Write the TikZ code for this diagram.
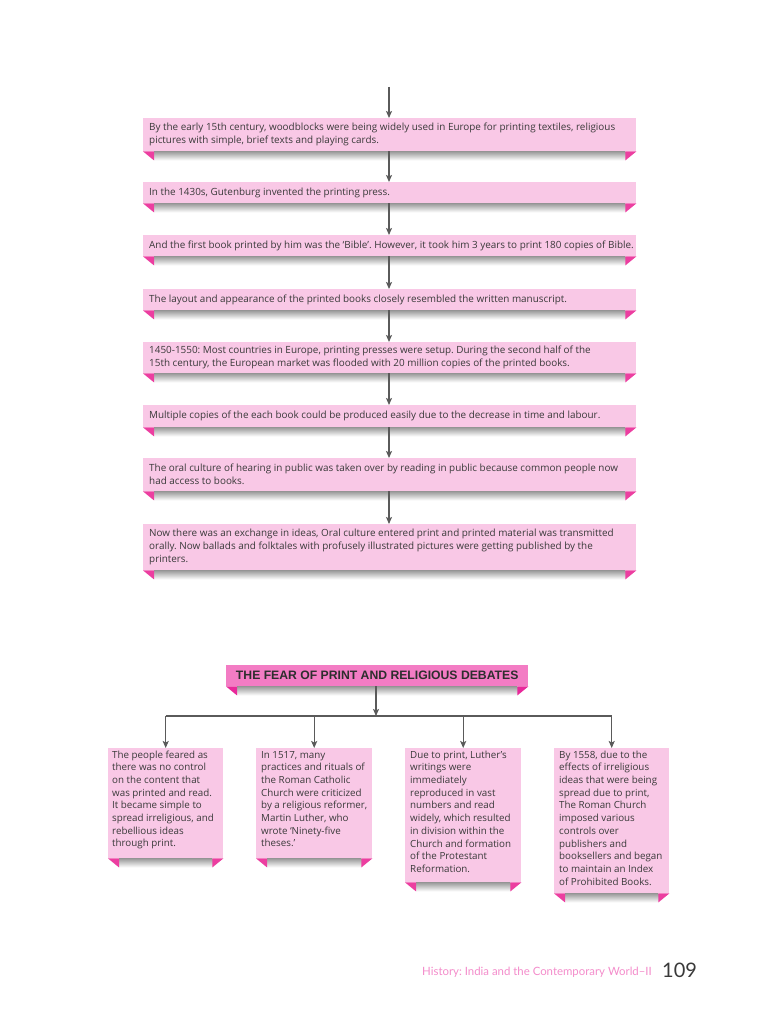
\documentclass[tikz,border=0pt]{standalone}
\usepackage{fontspec}
\setmainfont{Open Sans}
\newfontfamily\titlefont{Liberation Sans}
\newfontfamily\footfont{Lato}
\usetikzlibrary{arrows.meta,calc}
\frenchspacing
\definecolor{boxpink}{HTML}{F9C8E6}
\definecolor{tripink}{HTML}{EC3EA0}
\definecolor{titlepink}{HTML}{F37CC4}
\definecolor{titletri}{HTML}{E8289A}
\definecolor{txtgrey}{HTML}{3A3A3A}
\definecolor{linegrey}{HTML}{5A5A5A}
\definecolor{footpink}{HTML}{F48CCB}
\tikzset{
  box/.style={fill=boxpink, draw=none, rectangle, anchor=north west, inner sep=0pt},
  titlebox/.style={fill=titlepink, draw=none, rectangle, anchor=north west, inner sep=0pt,
    font=\titlefont\bfseries\fontsize{12.2}{14}\selectfont, text=txtgrey!80!black},
  txt/.style={anchor=west, inner sep=0pt, align=left, text=txtgrey,
    font=\frenchspacing\fontsize{9.9}{13}\selectfont},
  stxt/.style={anchor=north west, inner sep=0pt, align=left, text=txtgrey,
    font=\frenchspacing\fontsize{9.8}{12.7}\selectfont},
  conn/.style={draw=linegrey, line width=1.1pt},
  arr/.style={conn, -{Stealth[length=7pt,width=6pt,inset=1.5pt]}},
}
\newcommand\ribdeco[2]{%
  \shade[top color=black!40, bottom color=white] ($(#1.south west)+(11,0)$) rectangle ($(#1.south east)+(-11,9)$);
  \fill[#2] (#1.south west) -- ++(11,0) -- ++(0,9) -- cycle;
  \fill[#2] (#1.south east) -- ++(-11,0) -- ++(0,9) -- cycle;
}
\begin{document}
\begin{tikzpicture}[x=1pt,y=-1pt]
\useasboundingbox (0,0) rectangle (768,1024);
\fill[white] (0,0) rectangle (768,1024);

% top chain boxes
\node[box, minimum width=493, minimum height=33] (b1) at (143,118) {};
\node[box, minimum width=493, minimum height=21] (b2) at (143,182) {};
\node[box, minimum width=493, minimum height=21] (b3) at (143,235) {};
\node[box, minimum width=493, minimum height=21] (b4) at (143,289) {};
\node[box, minimum width=493, minimum height=31] (b5) at (143,342) {};
\node[box, minimum width=493, minimum height=22] (b6) at (143,405) {};
\node[box, minimum width=493, minimum height=33] (b7) at (143,458) {};
\node[box, minimum width=493, minimum height=46] (b8) at (143,524) {};

\node[txt] (t1) at ($(b1.west)+(6,0)$) {By the early 15th century, woodblocks were being widely used in Europe for printing textiles, religious\\pictures with simple, brief texts and playing cards.};
\node[txt] (t2) at ($(b2.west)+(6,0)$) {In the 1430s, Gutenburg invented the printing press.};
\node[txt] (t3) at ($(b3.west)+(6,0)$) {And the first book printed by him was the ‘Bible’. However, it took him 3 years to print 180 copies of Bible.};
\node[txt] (t4) at ($(b4.west)+(6,0)$) {The layout and appearance of the printed books closely resembled the written manuscript.};
\node[txt] (t5) at ($(b5.west)+(6,0)$) {1450-1550: Most countries in Europe, printing presses were setup. During the second half of the\\15th century, the European market was flooded with 20 million copies of the printed books.};
\node[txt] (t6) at ($(b6.west)+(6,0)$) {Multiple copies of the each book could be produced easily due to the decrease in time and labour.};
\node[txt] (t7) at ($(b7.west)+(6,0)$) {The oral culture of hearing in public was taken over by reading in public because common people now\\had access to books.};
\node[txt] (t8) at ($(b8.west)+(6,0)$) {Now there was an exchange in ideas, Oral culture entered print and printed material was transmitted\\orally. Now ballads and folktales with profusely illustrated pictures were getting published by the\\printers.};

\foreach \n in {b1,b2,b3,b4,b5,b6,b7,b8} {\ribdeco{\n}{tripink}}

\coordinate (start) at (389,87);
\draw[arr] (start) -- (b1.north -| start);
\foreach \a/\b in {b1/b2,b2/b3,b3/b4,b4/b5,b5/b6,b6/b7,b7/b8}
  \draw[arr] (\a.south -| start) -- (\b.north -| start);

% title
\node[titlebox, minimum width=302, minimum height=21] (title) at (226,665) {THE FEAR OF PRINT AND RELIGIOUS DEBATES};
\ribdeco{title}{titletri}

% bottom boxes
\node[box, minimum width=115, minimum height=110] (c1) at (108,748) {};
\node[box, minimum width=116, minimum height=110] (c2) at (256,748) {};
\node[box, minimum width=116, minimum height=134] (c3) at (405,748) {};
\node[box, minimum width=115, minimum height=145] (c4) at (554,748) {};

\node[stxt] (s1) at ($(c1.north west)+(4,1)$) {\strut The people feared as\\there was no control\\on the content that\\was printed and read.\\It became simple to\\spread irreligious, and\\rebellious ideas\\through print.};
\node[stxt] (s2) at ($(c2.north west)+(5,1)$) {\strut In 1517, many\\practices and rituals of\\the Roman Catholic\\Church were criticized\\by a religious reformer,\\Martin Luther, who\\wrote ‘Ninety-five\\theses.’};
\node[stxt] (s3) at ($(c3.north west)+(5,1)$) {\strut Due to print, Luther’s\\writings were\\immediately\\reproduced in vast\\numbers and read\\widely, which resulted\\in division within the\\Church and formation\\of the Protestant\\Reformation.};
\node[stxt] (s4) at ($(c4.north west)+(5,1)$) {\strut By 1558, due to the\\effects of irreligious\\ideas that were being\\spread due to print,\\The Roman Church\\imposed various\\controls over\\publishers and\\booksellers and began\\to maintain an Index\\of Prohibited Books.};

\foreach \n in {c1,c2,c3,c4} {\ribdeco{\n}{tripink}}

\coordinate (bar) at (376,716);
\draw[arr] (title.south -| bar) -- (bar);
\draw[conn] (c1.north |- bar) -- (c4.north |- bar);
\foreach \n in {c1,c2,c3,c4}
  \draw[arr] (\n.north |- bar) -- (\n.north);

% footer
\node[anchor=base east, inner sep=0pt, text=footpink, font=\footfont\fontsize{11.4}{13}\selectfont] (foot) at (652,975) {History: India and the Contemporary World–II};
\node[anchor=base west, inner sep=0pt, text=txtgrey, font=\footfont\fontsize{20}{22}\selectfont] (page) at (662,977) {109};
\end{tikzpicture}
\end{document}
